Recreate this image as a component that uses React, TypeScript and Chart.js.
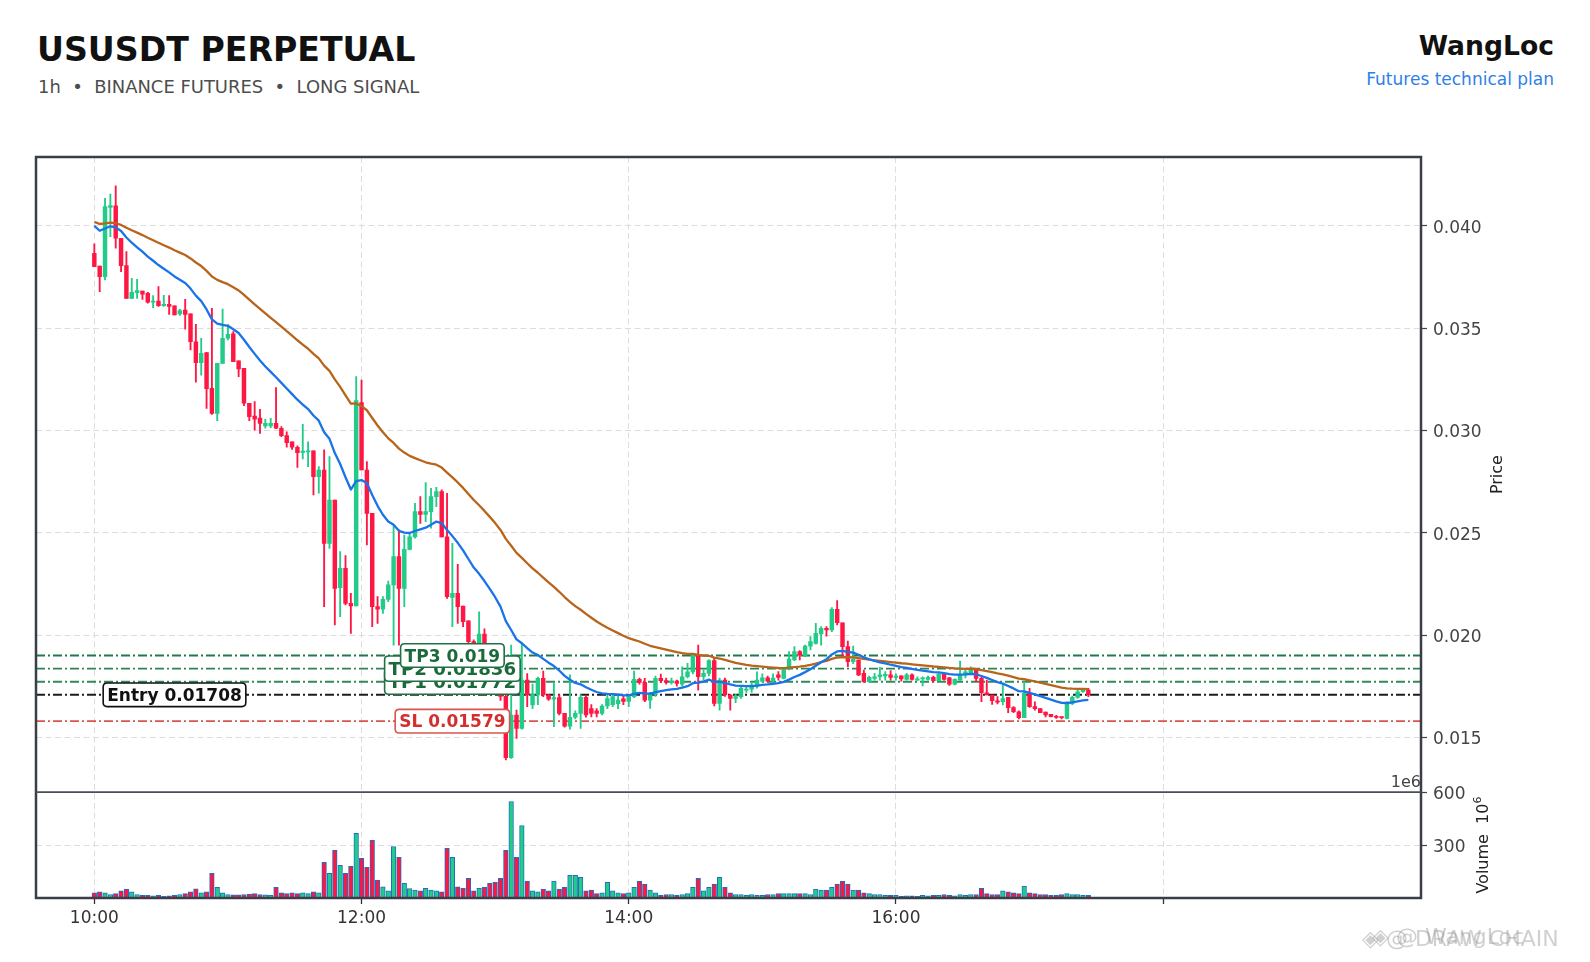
import React, { useEffect, useRef } from 'react';
import { Chart, registerables } from 'chart.js';

Chart.register(...registerables);

// ---------------- text ----------------
const SYMBOL = 'USUSDT PERPETUAL';
const SUBTITLE = '1h  •  BINANCE FUTURES  •  LONG SIGNAL';
const AUTHOR = 'WangLoc';
const TAGLINE = 'Futures technical plan';
const WATERMARK_A = '◈ @ DRAW CHAIN';
const WATERMARK_B = '◈ @ WangLoc';

// ---------------- data ----------------
// time of each candle: minutes after 10:00 (one candle every 2.4 minutes)
const START_MIN = 0;
const STEP_MIN = 2.4;

const OPEN = [
  0.03866, 0.03804, 0.03752, 0.0409, 0.04098, 0.0394, 0.03806, 0.03646, 0.03674, 0.03682,
  0.03671, 0.03627, 0.03633, 0.0361, 0.03617, 0.03609, 0.0357, 0.03589, 0.0357, 0.03434,
  0.03332, 0.03381, 0.03206, 0.03084, 0.03328, 0.03451, 0.03472, 0.03341, 0.03304, 0.03133,
  0.03071, 0.03061, 0.03022, 0.03022, 0.03035, 0.03011, 0.02975, 0.02944, 0.02918, 0.02893,
  0.02895, 0.02901, 0.02774, 0.02807, 0.02448, 0.0266, 0.02232, 0.02326, 0.02155, 0.02142,
  0.03136, 0.02807, 0.02595, 0.02139, 0.02126, 0.02174, 0.02245, 0.02383, 0.02228, 0.02419,
  0.0248, 0.02603, 0.0259, 0.02603, 0.02677, 0.02701, 0.0248, 0.02184, 0.02204, 0.02142,
  0.02069, 0.01968, 0.01935, 0.02005, 0.0193, 0.0186, 0.018, 0.017, 0.014, 0.01609,
  0.01544, 0.0178, 0.01658, 0.01707, 0.01788, 0.01707, 0.01686, 0.01694, 0.01617, 0.01555,
  0.01598, 0.01617, 0.01695, 0.0164, 0.0163, 0.01617, 0.01653, 0.0166, 0.01665, 0.01688,
  0.01676, 0.01699, 0.01783, 0.01769, 0.01682, 0.0171, 0.01788, 0.01777, 0.01769, 0.01775,
  0.0176, 0.01796, 0.0182, 0.01902, 0.01796, 0.01813, 0.01875, 0.01666, 0.0178, 0.01707,
  0.0169, 0.01699, 0.0173, 0.01735, 0.0175, 0.01775, 0.01791, 0.01775, 0.01805, 0.01788,
  0.01837, 0.01878, 0.01919, 0.01897, 0.01946, 0.01959, 0.02005, 0.02033, 0.02025, 0.02126,
  0.0206, 0.01943, 0.0187, 0.01878, 0.01813, 0.01772, 0.01788, 0.01796, 0.018, 0.01805,
  0.01793, 0.01801, 0.01783, 0.01805, 0.0178, 0.01785, 0.01783, 0.01793, 0.01777, 0.01809,
  0.01791, 0.0176, 0.0178, 0.01805, 0.01816, 0.01829, 0.01788, 0.01718, 0.01707, 0.01679,
  0.01674, 0.01695, 0.01645, 0.01625, 0.01596, 0.01715, 0.0165, 0.0164, 0.01624, 0.01612,
  0.01603, 0.01599, 0.01593, 0.01666, 0.01695, 0.01723, 0.01731,
];

const HIGH = [
  0.03912, 0.03804, 0.04135, 0.04156, 0.04196, 0.0394, 0.03875, 0.03744, 0.03739, 0.03682,
  0.03676, 0.03659, 0.03703, 0.03661, 0.03659, 0.03609, 0.03592, 0.03641, 0.0357, 0.03519,
  0.03451, 0.03381, 0.03597, 0.03328, 0.03593, 0.03518, 0.03483, 0.03341, 0.03304, 0.03133,
  0.03141, 0.03104, 0.03055, 0.0306, 0.0321, 0.03019, 0.02994, 0.02944, 0.02925, 0.0303,
  0.02945, 0.02901, 0.02823, 0.02905, 0.02872, 0.0266, 0.02408, 0.02388, 0.02204, 0.03263,
  0.03247, 0.02848, 0.02595, 0.02188, 0.02188, 0.02264, 0.02533, 0.02514, 0.02489, 0.02497,
  0.02644, 0.02677, 0.02745, 0.02717, 0.02722, 0.0271, 0.02693, 0.02448, 0.02346, 0.02142,
  0.02069, 0.01976, 0.02114, 0.0203, 0.0194, 0.0188, 0.0182, 0.0172, 0.01951, 0.01633,
  0.01959, 0.01812, 0.0176, 0.01795, 0.01824, 0.0171, 0.01764, 0.01709, 0.01617, 0.01805,
  0.0163, 0.01709, 0.01703, 0.0166, 0.0164, 0.0166, 0.01707, 0.0171, 0.0171, 0.017,
  0.0171, 0.01824, 0.0179, 0.01788, 0.0172, 0.018, 0.01809, 0.0179, 0.0179, 0.0178,
  0.01845, 0.01862, 0.0191, 0.01951, 0.0183, 0.0188, 0.01886, 0.0179, 0.0179, 0.0171,
  0.0171, 0.0175, 0.0175, 0.0177, 0.0182, 0.0181, 0.018, 0.0181, 0.01821, 0.0184,
  0.01919, 0.01943, 0.01924, 0.01951, 0.01992, 0.02057, 0.02041, 0.02041, 0.02134, 0.02168,
  0.0206, 0.0197, 0.01946, 0.01878, 0.01829, 0.018, 0.01813, 0.01842, 0.01821, 0.01826,
  0.0181, 0.01801, 0.01813, 0.0181, 0.01796, 0.01796, 0.018, 0.018, 0.01811, 0.01813,
  0.01793, 0.01786, 0.01873, 0.0183, 0.01845, 0.01832, 0.01796, 0.0178, 0.01707, 0.01699,
  0.01756, 0.01695, 0.0165, 0.0163, 0.01772, 0.0174, 0.01674, 0.0164, 0.01624, 0.01612,
  0.01607, 0.016, 0.01674, 0.01702, 0.0173, 0.0174, 0.01739,
];

const LOW = [
  0.03801, 0.03679, 0.03736, 0.03948, 0.03891, 0.03777, 0.03646, 0.03646, 0.03646, 0.03641,
  0.03622, 0.036, 0.03606, 0.03606, 0.03568, 0.03565, 0.03562, 0.03495, 0.03394, 0.03236,
  0.03271, 0.03108, 0.03079, 0.03048, 0.03328, 0.03443, 0.03337, 0.03263, 0.03121, 0.03048,
  0.03002, 0.02986, 0.03011, 0.03014, 0.03009, 0.0297, 0.02918, 0.02908, 0.0282, 0.02861,
  0.02823, 0.02685, 0.02693, 0.02139, 0.02424, 0.02049, 0.0209, 0.02147, 0.02008, 0.02142,
  0.02807, 0.0244, 0.02041, 0.02057, 0.02106, 0.02163, 0.01951, 0.01951, 0.02139, 0.02416,
  0.02473, 0.02546, 0.02554, 0.02522, 0.02628, 0.0248, 0.02179, 0.02041, 0.02057, 0.02041,
  0.01943, 0.0192, 0.01927, 0.019, 0.0184, 0.0178, 0.0168, 0.0139, 0.01397, 0.01495,
  0.0154, 0.0165, 0.0164, 0.0166, 0.01699, 0.0168, 0.01552, 0.01609, 0.0155, 0.0154,
  0.0159, 0.01544, 0.01599, 0.016, 0.016, 0.0161, 0.0164, 0.0165, 0.0164, 0.0166,
  0.0165, 0.01694, 0.0176, 0.01674, 0.01641, 0.017, 0.01767, 0.0176, 0.0176, 0.0175,
  0.0175, 0.0179, 0.0181, 0.01731, 0.0178, 0.018, 0.01653, 0.01633, 0.017, 0.01633,
  0.0167, 0.0169, 0.0172, 0.0172, 0.0174, 0.0177, 0.0177, 0.0177, 0.0178, 0.01785,
  0.0183, 0.01875, 0.01878, 0.01894, 0.01927, 0.01956, 0.01951, 0.01995, 0.02017, 0.02049,
  0.01894, 0.01845, 0.0186, 0.01801, 0.01769, 0.0177, 0.0178, 0.0178, 0.0178, 0.0178,
  0.0178, 0.01775, 0.0178, 0.0178, 0.01778, 0.01751, 0.0178, 0.0177, 0.01775, 0.0178,
  0.01754, 0.01756, 0.0178, 0.0179, 0.0181, 0.01772, 0.01674, 0.01707, 0.01661, 0.01663,
  0.01658, 0.0162, 0.0162, 0.0159, 0.01596, 0.01646, 0.01633, 0.0162, 0.016, 0.016,
  0.01593, 0.0159, 0.0159, 0.0166, 0.0169, 0.0172, 0.01699,
];

const CLOSE = [
  0.03801, 0.03752, 0.04095, 0.04099, 0.0394, 0.03806, 0.03646, 0.03675, 0.03684, 0.03667,
  0.03627, 0.03633, 0.0361, 0.03617, 0.03606, 0.03565, 0.03586, 0.03568, 0.03434, 0.03332,
  0.03377, 0.03205, 0.03084, 0.03328, 0.03451, 0.0347, 0.03337, 0.03301, 0.03133, 0.03068,
  0.03055, 0.03035, 0.03035, 0.03035, 0.03011, 0.02975, 0.0294, 0.02918, 0.02892, 0.02899,
  0.029, 0.02774, 0.02807, 0.02448, 0.0266, 0.02228, 0.02326, 0.02155, 0.02142, 0.03146,
  0.02807, 0.02595, 0.02139, 0.02126, 0.02174, 0.02245, 0.02383, 0.02228, 0.02419, 0.0248,
  0.02603, 0.0259, 0.02603, 0.02677, 0.02701, 0.0248, 0.02187, 0.02204, 0.02139, 0.02065,
  0.01968, 0.01935, 0.02005, 0.0193, 0.0186, 0.018, 0.017, 0.014, 0.01609, 0.01544,
  0.0178, 0.01707, 0.0171, 0.01788, 0.01707, 0.01686, 0.01694, 0.01617, 0.01555, 0.01598,
  0.01617, 0.01695, 0.01609, 0.01617, 0.01617, 0.01653, 0.0169, 0.01699, 0.01682, 0.01676,
  0.01699, 0.01783, 0.01769, 0.01682, 0.0171, 0.01788, 0.01777, 0.01769, 0.01775, 0.01763,
  0.01796, 0.0182, 0.01902, 0.01796, 0.01813, 0.01875, 0.01666, 0.0178, 0.01707, 0.0169,
  0.01699, 0.01739, 0.01735, 0.01756, 0.0178, 0.01791, 0.01775, 0.0179, 0.01793, 0.01837,
  0.01883, 0.01919, 0.01902, 0.01946, 0.01968, 0.02008, 0.02033, 0.02025, 0.02126, 0.0206,
  0.01943, 0.0187, 0.01881, 0.01805, 0.01772, 0.01793, 0.01796, 0.01805, 0.01808, 0.01793,
  0.018, 0.01785, 0.01805, 0.01783, 0.01785, 0.01788, 0.01793, 0.01777, 0.01809, 0.01783,
  0.0176, 0.01783, 0.01805, 0.0182, 0.01837, 0.01788, 0.01718, 0.01707, 0.01679, 0.01672,
  0.0169, 0.01645, 0.01625, 0.01596, 0.01715, 0.0165, 0.0164, 0.0162, 0.01609, 0.01601,
  0.01597, 0.01596, 0.01666, 0.01695, 0.01723, 0.01731, 0.01707,
];

// volume in millions (axis shows x1e6)
const VOLUME_M = [
  30, 35, 30, 20, 25, 40, 51, 35, 20, 15,
  15, 12, 15, 10, 12, 15, 20, 25, 35, 52,
  30, 35, 140, 60, 30, 20, 18, 18, 20, 22,
  25, 20, 18, 15, 60, 30, 25, 30, 25, 30,
  25, 35, 30, 202, 140, 270, 185, 140, 179, 366,
  225, 174, 327, 102, 63, 40, 292, 230, 83, 53,
  45, 40, 55, 45, 40, 35, 281, 230, 63, 55,
  111, 40, 55, 62, 83, 89, 111, 270, 547, 230,
  411, 96, 40, 35, 50, 40, 96, 50, 60, 128,
  128, 117, 40, 45, 25, 30, 89, 40, 30, 25,
  30, 60, 96, 79, 45, 30, 15, 20, 20, 15,
  20, 25, 60, 111, 40, 60, 79, 117, 60, 30,
  20, 20, 15, 20, 15, 15, 20, 20, 25, 25,
  25, 25, 25, 25, 20, 50, 45, 45, 60, 79,
  94, 79, 45, 45, 30, 25, 20, 20, 15, 15,
  15, 10, 12, 12, 10, 15, 12, 15, 15, 20,
  15, 12, 20, 15, 20, 20, 55, 25, 20, 20,
  40, 35, 30, 25, 68, 30, 25, 20, 20, 15,
  15, 20, 25, 20, 20, 15, 15,
];

// EMA indicators on close (value carried in from earlier history)
const EMA_FAST_PERIOD = 20;
const EMA_FAST_START = 0.04;
const EMA_SLOW_PERIOD = 50;
const EMA_SLOW_START = 0.0402;

const LEVEL_NAMES = ['TP3', 'TP2', 'TP1', 'Entry', 'SL'];
const LEVEL_VALUES = [0.019, 0.01836, 0.01772, 0.01708, 0.01579];

const PRICE_TICKS = [0.015, 0.02, 0.025, 0.03, 0.035, 0.04];
const VOLUME_TICKS = [300, 600];
const TIME_TICKS = [0, 120, 240, 360, 480];
const TIME_TICK_LABELS = ['10:00', '12:00', '14:00', '16:00', ''];

// ---------------- styles / layout ----------------
const W = 1590;
const H = 962;
const FONT = '"DejaVu Sans", sans-serif';
const UP = '#22cc88';
const DOWN = '#ff1744';
const VOL_EDGE = '#1f6fc0';
const EMA_FAST_COLOR = '#1a73e8';
const EMA_SLOW_COLOR = '#b8651b';
const GRID = '#dddddd';
const DASH_DOT = [9, 3, 2, 3];
const Y_LABEL_NUDGE = '5px'; // line height used to nudge right-axis labels ~2.5px down

const X_MIN = -26.2;
const X_MAX = 595.8;
const Y_MIN = 0.01232;
const Y_MAX = 0.04337;

const LEVEL_STYLE: Record<string, { line: string; text: string; edge: string; font: number; at: number }> = {
  TP3: { line: '#22784a', text: '#1b6a3b', edge: '#1f7043', font: 17, at: 160.8 },
  TP2: { line: '#2c8455', text: '#1b6a3b', edge: '#1f7043', font: 18.2, at: 160.8 },
  TP1: { line: '#318a5a', text: '#1b6a3b', edge: '#1f7043', font: 18.2, at: 160.8 },
  Entry: { line: '#1c1c1c', text: '#111111', edge: '#111111', font: 17, at: 36 },
  SL: { line: '#d9534f', text: '#d32f2f', edge: '#d9534f', font: 17, at: 160.8 },
};
const LABEL_DRAW_ORDER = ['SL', 'Entry', 'TP1', 'TP2', 'TP3'];

function ema(values: number[], period: number, start: number): number[] {
  const k = 2 / (period + 1);
  const out: number[] = [];
  let e = start;
  values.forEach((v, i) => {
    if (i > 0) e = e + k * (v - e);
    out.push(e);
  });
  return out;
}

function roundRectPath(ctx: CanvasRenderingContext2D, x: number, y: number, w: number, h: number, r: number) {
  ctx.beginPath();
  ctx.moveTo(x + r, y);
  ctx.lineTo(x + w - r, y);
  ctx.quadraticCurveTo(x + w, y, x + w, y + r);
  ctx.lineTo(x + w, y + h - r);
  ctx.quadraticCurveTo(x + w, y + h, x + w - r, y + h);
  ctx.lineTo(x + r, y + h);
  ctx.quadraticCurveTo(x, y + h, x, y + h - r);
  ctx.lineTo(x, y + r);
  ctx.quadraticCurveTo(x, y, x + r, y);
  ctx.closePath();
}

const overlayPlugin = {
  id: 'overlay',
  afterDatasetsDraw(chart: any) {
    const ctx: CanvasRenderingContext2D = chart.ctx;
    const xs = chart.scales.x;
    const ys = chart.scales.y;
    ctx.save();
    LABEL_DRAW_ORDER.forEach((name) => {
      const idx = LEVEL_NAMES.indexOf(name);
      const st = LEVEL_STYLE[name];
      const text = `${name} ${LEVEL_VALUES[idx]}`;
      const cx = xs.getPixelForValue(st.at);
      const cy = ys.getPixelForValue(LEVEL_VALUES[idx]);
      ctx.font = `bold ${st.font}px ${FONT}`;
      const tw = ctx.measureText(text).width;
      const padX = 4;
      const bh = st.font * 1.33 + 1;
      roundRectPath(ctx, cx - tw / 2 - padX, cy - bh / 2, tw + 2 * padX, bh, 4);
      ctx.fillStyle = '#ffffff';
      ctx.fill();
      ctx.lineWidth = 1.6;
      ctx.strokeStyle = st.edge;
      ctx.stroke();
      ctx.fillStyle = st.text;
      ctx.textAlign = 'center';
      ctx.textBaseline = 'alphabetic';
      ctx.fillText(text, cx, cy + st.font * 0.365);
    });
    ctx.restore();
  },
  afterDraw(chart: any) {
    const ctx: CanvasRenderingContext2D = chart.ctx;
    const a = chart.chartArea;
    const yv = chart.scales.yv;
    ctx.save();
    // panel frame
    ctx.strokeStyle = '#3a3f47';
    ctx.lineWidth = 2.5;
    ctx.strokeRect(a.left, a.top, a.right - a.left, a.bottom - a.top);
    ctx.lineWidth = 1.8;
    ctx.strokeStyle = '#4a4f57';
    ctx.beginPath();
    ctx.moveTo(a.left, yv.top);
    ctx.lineTo(a.right, yv.top);
    ctx.stroke();

    // offset text of volume axis
    ctx.fillStyle = '#444';
    ctx.font = `16px ${FONT}`;
    ctx.textAlign = 'right';
    ctx.textBaseline = 'alphabetic';
    ctx.fillText('1e6', a.right, yv.top - 5);

    // axis titles (rotated, reading upwards)
    ctx.fillStyle = '#222';
    ctx.save();
    ctx.translate(a.right + 81, (a.top + yv.top) / 2);
    ctx.rotate(-Math.PI / 2);
    ctx.textAlign = 'center';
    ctx.font = `16px ${FONT}`;
    ctx.fillText('Price', 0, 0);
    ctx.restore();

    ctx.save();
    ctx.translate(a.right + 67, (yv.top + yv.bottom) / 2);
    ctx.rotate(-Math.PI / 2);
    ctx.textAlign = 'left';
    ctx.font = `16px ${FONT}`;
    const w1 = ctx.measureText('Volume  10').width;
    ctx.font = `11px ${FONT}`;
    const w2 = ctx.measureText('6').width;
    const start = -(w1 + w2) / 2;
    ctx.font = `16px ${FONT}`;
    ctx.fillText('Volume  10', start, 0);
    ctx.font = `11px ${FONT}`;
    ctx.fillText('6', start + w1, -7);
    ctx.restore();

    // watermark
    ctx.font = `22px ${FONT}`;
    ctx.textAlign = 'left';
    ctx.fillStyle = 'rgba(150,150,150,0.45)';
    ctx.fillText(WATERMARK_A, 1362, 946);
    ctx.fillText(WATERMARK_B, 1372, 944);
    ctx.restore();
  },
};

export default function App() {
  const ref = useRef<HTMLCanvasElement | null>(null);

  useEffect(() => {
    if (!ref.current) return;
    Chart.defaults.font.family = FONT;

    const times = CLOSE.map((_, i) => START_MIN + i * STEP_MIN);
    const colors = CLOSE.map((c, i) => (c >= OPEN[i] ? UP : DOWN));
    const fast = ema(CLOSE, EMA_FAST_PERIOD, EMA_FAST_START);
    const slow = ema(CLOSE, EMA_SLOW_PERIOD, EMA_SLOW_START);

    const levelSets = LEVEL_NAMES.map((name, i) => ({
      type: 'line' as const,
      label: name,
      data: [
        { x: X_MIN, y: LEVEL_VALUES[i] },
        { x: X_MAX, y: LEVEL_VALUES[i] },
      ],
      yAxisID: 'y',
      borderColor: LEVEL_STYLE[name].line,
      borderWidth: 1.9,
      borderDash: DASH_DOT,
      pointRadius: 0,
      fill: false,
      order: 3,
    }));

    const rightTicks = {
      padding: 6,
      color: '#444',
      font: { size: 17, family: FONT, lineHeight: Y_LABEL_NUDGE },
    };

    const chart = new Chart(ref.current, {
      type: 'line',
      data: {
        datasets: [
          {
            type: 'line',
            label: 'EMA20',
            data: times.map((t, i) => ({ x: t, y: fast[i] })),
            yAxisID: 'y',
            borderColor: EMA_FAST_COLOR,
            borderWidth: 2.3,
            pointRadius: 0,
            tension: 0,
            fill: false,
            borderJoinStyle: 'round',
            order: 0,
          },
          {
            type: 'line',
            label: 'EMA50',
            data: times.map((t, i) => ({ x: t, y: slow[i] })),
            yAxisID: 'y',
            borderColor: EMA_SLOW_COLOR,
            borderWidth: 2.3,
            pointRadius: 0,
            tension: 0,
            fill: false,
            borderJoinStyle: 'round',
            order: 0,
          },
          {
            type: 'bar',
            label: 'body',
            data: times.map((t, i) => ({ x: t, y: [Math.min(OPEN[i], CLOSE[i]), Math.max(OPEN[i], CLOSE[i])] })) as any,
            yAxisID: 'y',
            backgroundColor: colors,
            borderWidth: 0,
            barThickness: 3.8,
            minBarLength: 1.2,
            grouped: false,
            order: 1,
          },
          {
            type: 'bar',
            label: 'wick',
            data: times.map((t, i) => ({ x: t, y: [LOW[i], HIGH[i]] })) as any,
            yAxisID: 'y',
            backgroundColor: colors,
            borderWidth: 0,
            barThickness: 1.2,
            grouped: false,
            order: 2,
          },
          ...levelSets,
          {
            type: 'bar',
            label: 'volume',
            data: times.map((t, i) => ({ x: t, y: VOLUME_M[i] })),
            yAxisID: 'yv',
            backgroundColor: colors,
            borderColor: VOL_EDGE,
            borderWidth: 1,
            barThickness: 4.6,
            grouped: false,
            order: 4,
          },
        ] as any,
      },
      options: {
        responsive: false,
        maintainAspectRatio: false,
        animation: false,
        events: [],
        layout: { padding: { left: 36, top: 157, right: 0, bottom: 24 } },
        plugins: { legend: { display: false }, tooltip: { enabled: false } },
        scales: {
          x: {
            type: 'linear',
            min: X_MIN,
            max: X_MAX,
            offset: false,
            grid: {
              offset: false,
              color: GRID,
              lineWidth: 1,
              tickColor: '#333',
              tickLength: 6,
              tickWidth: 1.3,
              tickBorderDash: [],
            },
            border: { display: false, dash: [6, 3.5] },
            ticks: {
              autoSkip: false,
              maxRotation: 0,
              padding: 4,
              color: '#333',
              font: { size: 17, family: FONT },
              callback: (_v: any, i: number) => TIME_TICK_LABELS[i] ?? '',
            },
            afterBuildTicks: (s: any) => {
              s.ticks = TIME_TICKS.map((v) => ({ value: v }));
            },
            afterFit: (s: any) => {
              s.height = 40;
            },
          },
          y: {
            type: 'linear',
            position: 'right',
            stack: 'panels',
            stackWeight: 6,
            min: Y_MIN,
            max: Y_MAX,
            grid: {
              color: GRID,
              lineWidth: 1,
              tickColor: '#444',
              tickLength: 6,
              tickWidth: 1.2,
              tickBorderDash: [],
            },
            border: { display: false, dash: [6, 3.5] },
            ticks: {
              ...rightTicks,
              callback: (v: any) => ['', Number(v).toFixed(3)],
            },
            afterBuildTicks: (s: any) => {
              s.ticks = PRICE_TICKS.map((v) => ({ value: v }));
            },
            afterFit: (s: any) => {
              s.width = W - 1421;
            },
          },
          yv: {
            type: 'linear',
            position: 'right',
            stack: 'panels',
            stackWeight: 1,
            min: 0,
            max: 600,
            grid: {
              color: GRID,
              lineWidth: 1,
              tickColor: '#444',
              tickLength: 6,
              tickWidth: 1.2,
              tickBorderDash: [],
            },
            border: { display: false, dash: [6, 3.5] },
            ticks: {
              ...rightTicks,
              callback: (v: any) => ['', String(v)],
            },
            afterBuildTicks: (s: any) => {
              s.ticks = VOLUME_TICKS.map((v) => ({ value: v }));
            },
            afterFit: (s: any) => {
              s.width = W - 1421;
            },
          },
        } as any,
      },
      plugins: [overlayPlugin],
    });

    return () => chart.destroy();
  }, []);

  const base: React.CSSProperties = {
    position: 'absolute',
    lineHeight: 1,
    whiteSpace: 'pre',
    fontFamily: FONT,
  };

  return (
    <div style={{ position: 'absolute', left: 0, top: 0, width: W, height: H, background: '#ffffff', overflow: 'hidden' }}>
      <div style={{ ...base, left: 37, top: 32.8, fontSize: 33.2, fontWeight: 700, color: '#111' }}>{SYMBOL}</div>
      <div style={{ ...base, left: 38, top: 77.5, fontSize: 17.95, color: '#4d4d4d' }}>{SUBTITLE}</div>
      <div style={{ ...base, right: 36, top: 33.4, fontSize: 26.6, fontWeight: 700, color: '#111', textAlign: 'right' }}>{AUTHOR}</div>
      <div style={{ ...base, right: 36, top: 71.4, fontSize: 17, color: '#2f7fe8', textAlign: 'right' }}>{TAGLINE}</div>
      <canvas ref={ref} width={W} height={H} style={{ position: 'absolute', left: 0, top: 0, width: W, height: H }} />
    </div>
  );
}
